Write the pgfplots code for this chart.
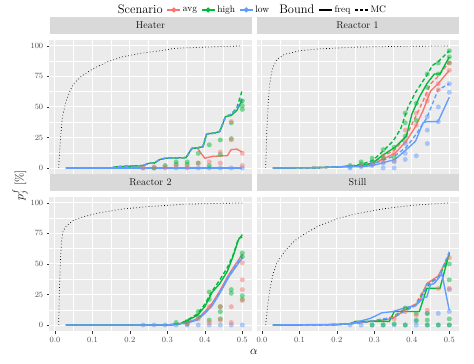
\documentclass[border=0pt]{standalone}
\usepackage{pgfplots}
\pgfplotsset{compat=1.18}
\definecolor{avgc}{HTML}{F8766D}
\definecolor{highc}{HTML}{00BA38}
\definecolor{lowc}{HTML}{619CFF}
\definecolor{panelbg}{HTML}{EBEBEB}
\definecolor{stripbg}{HTML}{D9D9D9}
\definecolor{stripc}{HTML}{1A1A1A}
\definecolor{tickc}{HTML}{333333}
\definecolor{labc}{HTML}{4D4D4D}
\pgfplotsset{
 facet/.style={
  scale only axis, width=202bp, height=134.3bp, anchor=south west,
  xmin=-0.0145, xmax=0.5245, ymin=-5, ymax=105,
  axis background/.style={fill=panelbg},
  axis line style={draw=none},
  xmajorgrids, ymajorgrids, xminorgrids, yminorgrids,
  major grid style={white, line width=0.9bp},
  minor grid style={white, line width=0.45bp},
  xtick={0,0.1,0.2,0.3,0.4,0.5},
  minor xtick={0.05,0.15,0.25,0.35,0.45},
  ytick={0,25,50,75,100},
  minor ytick={12.5,37.5,62.5,87.5},
  xtick pos=bottom, ytick pos=left,
  tick align=outside, major tick length=2.75bp, minor tick length=0pt,
  tick style={color=tickc, line width=0.5bp},
  ticklabel style={font=\fontsize{8.5}{9}\selectfont, text=labc},
  x tick label style={/pgf/number format/.cd, fixed, fixed zerofill, precision=1},
  title style={fill=stripbg, minimum width=202bp, minimum height=17bp, inner sep=0pt, outer sep=0pt, anchor=south, at={(0.5,1)}, font=\fontsize{10}{12}\selectfont, text=stripc},
 },
 notx/.style={xticklabels={}, xmajorticks=false},
 noty/.style={yticklabels={}, ymajorticks=false},
 pts/.style={only marks, mark=*, mark size=2.5bp, mark options={draw opacity=0, fill opacity=0.5}},
 ln/.style={no marks, line width=1.35bp},
 dl/.style={no marks, line width=1.35bp, dash pattern=on 4bp off 2.5bp},
 dot/.style={no marks, black, line width=0.7bp, dash pattern=on 0.7bp off 2.4bp},
 scenleg/.style={legend image code/.code={\draw[##1] (0bp,0bp) -- (13bp,0bp); \fill[##1] (6.5bp,0bp) circle (1.9bp);}},
 lineleg/.style={legend image code/.code={\draw[##1] (0bp,0bp) -- (13bp,0bp);}},
}
\begin{document}
\begin{tikzpicture}
\path[use as bounding box] (0bp,0bp) rectangle (474bp,364bp);
% ---------------- Heater ----------------
\begin{axis}[facet, notx, at={(49.5bp,189.9bp)}, title={Heater},
  legend style={at={(1.0025,1.222)}, anchor=center, draw=none, fill=none, legend columns=-1,
    font=\fontsize{9.5}{11}\selectfont, inner sep=0pt,
    /tikz/every even column/.append style={column sep=2bp}},
  legend cell align=left]
\addlegendimage{empty legend}\addlegendentry{\fontsize{12.5}{14}\selectfont Scenario}
\addlegendimage{avgc, line width=1.2bp, scenleg}\addlegendentry{avg}
\addlegendimage{highc, line width=1.2bp, scenleg}\addlegendentry{high}
\addlegendimage{lowc, line width=1.2bp, scenleg}\addlegendentry{low}
\addlegendimage{empty legend}\addlegendentry{\fontsize{12.5}{14}\selectfont\ Bound}
\addlegendimage{black, line width=1.2bp, lineleg}\addlegendentry{freq}
\addlegendimage{black, line width=1.2bp, dash pattern=on 3bp off 2bp, lineleg}\addlegendentry{MC}
\addplot[dot, forget plot] coordinates {(0.01,0)(0.015,25)(0.02,42)(0.03,55)(0.04,63)(0.05,69)(0.07,75)(0.1,81)(0.14,87)(0.18,91)(0.23,94)(0.28,96)(0.32,98)(0.4,99)(0.5,100)};
\addplot[pts, lowc, forget plot] coordinates {(0.2353,0)(0.2647,0)(0.2941,0)(0.3235,0)(0.3529,0)(0.3824,0)(0.4118,0)(0.4412,0)(0.4706,0)(0.5,0)};
\addplot[pts, highc, forget plot] coordinates {(0.2647,0)(0.2941,2)(0.3235,3)(0.3235,5)(0.3529,3)(0.3529,5)(0.3824,12)(0.3824,4)(0.4118,19)(0.4118,2)(0.4412,23)(0.4412,11)(0.4706,37)(0.4706,24)(0.5,51)(0.5,55)(0.5,48)};
\addplot[pts, avgc, forget plot] coordinates {(0.2353,0)(0.2647,1)(0.2941,1)(0.3235,2)(0.3529,1)(0.3824,4)(0.4118,5)(0.4412,13)(0.4412,4)(0.4706,38)(0.4706,23)(0.5,12)(0.5,2)};
\addplot[dl, avgc, forget plot] coordinates {(0.0294,0)(0.15,0)(0.165,1)(0.2,1.5)(0.235,2)(0.25,3.8)(0.265,4)(0.28,7)(0.295,8)(0.35,8.5)(0.365,16)(0.38,16.5)(0.395,17.5)(0.405,28)(0.425,28.5)(0.44,30)(0.455,42)(0.47,44)(0.485,48)(0.5,54)};
\addplot[ln, avgc, forget plot] coordinates {(0.365,16)(0.38,16.5)(0.39,12)(0.4,8)(0.42,9.5)(0.45,10)(0.46,10)(0.47,15)(0.485,15.5)(0.5,13)};
\addplot[ln, highc, forget plot] coordinates {(0.0294,0)(0.15,0)(0.165,1)(0.2,1.5)(0.235,2)(0.25,3.8)(0.265,4)(0.28,7)(0.295,8)(0.35,8.5)(0.365,16)(0.38,16.5)(0.395,17.5)(0.405,28)(0.425,28.5)(0.44,30)(0.455,42)(0.47,43)(0.485,47)(0.5,56)};
\addplot[dl, highc, forget plot] coordinates {(0.0294,0)(0.15,0)(0.165,1)(0.2,1.5)(0.235,2)(0.25,3.8)(0.265,4)(0.28,7)(0.295,8)(0.35,8.5)(0.365,16)(0.38,16.5)(0.395,17.5)(0.405,28)(0.425,28.5)(0.44,30)(0.455,42)(0.47,44)(0.485,49)(0.5,64)};
\addplot[ln, lowc, forget plot] coordinates {(0.0294,0)(0.5,0)};
\addplot[dl, lowc, forget plot] coordinates {(0.0294,0)(0.15,0)(0.165,1)(0.2,1.5)(0.235,2)(0.25,3.8)(0.265,4)(0.28,7)(0.295,8)(0.35,8.5)(0.365,16)(0.38,16.5)(0.395,17.5)(0.405,28)(0.425,28.5)(0.44,30)(0.455,42)(0.47,44)(0.485,48)(0.5,58)};
\end{axis}
% ---------------- Reactor 1 ----------------
\begin{axis}[facet, notx, noty, at={(256.5bp,189.9bp)}, title={Reactor 1}]
\addplot[dot] coordinates {(0.01,0)(0.013,30)(0.017,55)(0.02,67)(0.025,77)(0.03,83)(0.04,89)(0.06,93)(0.1,96)(0.15,97.5)(0.25,99)(0.35,99.5)(0.5,100)};
\addplot[pts, highc] coordinates {(0.2353,2)(0.2647,3)(0.2647,5)(0.2941,5)(0.2941,8)(0.3235,15)(0.3235,8)(0.3529,17)(0.3529,9)(0.3824,45)(0.3824,37)(0.3824,26)(0.4118,53)(0.4118,39)(0.4412,77)(0.4412,66)(0.4706,86)(0.4706,77)(0.5,96)(0.5,91)(0.5,86)};
\addplot[pts, avgc] coordinates {(0.2647,2)(0.2941,3)(0.3235,10)(0.3235,5)(0.3529,12)(0.3529,6)(0.3824,31)(0.3824,22)(0.4118,45)(0.4118,35)(0.4412,60)(0.4412,55)(0.4706,69)(0.4706,64)(0.5,86)(0.5,80)};
\addplot[pts, lowc] coordinates {(0.2353,0)(0.2353,1)(0.2647,1)(0.2941,2)(0.2941,4)(0.3235,0)(0.3235,4)(0.3529,5)(0.3529,0)(0.3824,20)(0.3824,12)(0.3824,7)(0.4118,10)(0.4412,20)(0.4412,31)(0.4412,42)(0.4706,38)(0.4706,50)(0.5,69)(0.5,62)};
\addplot[ln, avgc] coordinates {(0.0294,0)(0.15,0.3)(0.2,0.8)(0.235,1.5)(0.265,1.8)(0.295,3)(0.32,7)(0.355,12)(0.385,22)(0.41,34)(0.43,47)(0.45,63)(0.47,69)(0.5,80)};
\addplot[dl, avgc] coordinates {(0.0294,0)(0.15,0.3)(0.2,0.8)(0.235,1.5)(0.265,2)(0.295,4)(0.32,9)(0.355,15)(0.385,26)(0.41,42)(0.43,55)(0.45,69)(0.47,75)(0.5,87)};
\addplot[ln, highc] coordinates {(0.0294,0)(0.15,0.3)(0.2,0.8)(0.235,1.5)(0.265,2)(0.295,4)(0.32,10)(0.355,17)(0.385,26)(0.4,44)(0.42,58)(0.44,69)(0.46,77)(0.475,77)(0.5,91)};
\addplot[dl, highc] coordinates {(0.0294,0)(0.15,0.3)(0.2,0.8)(0.235,1.5)(0.265,3)(0.295,6)(0.32,13)(0.35,22)(0.37,32)(0.39,50)(0.41,62)(0.44,76)(0.455,84)(0.47,87)(0.5,96)};
\addplot[ln, lowc] coordinates {(0.0294,0)(0.15,0.3)(0.2,0.8)(0.235,1.2)(0.265,1)(0.295,2)(0.32,4)(0.355,7)(0.385,15)(0.41,22)(0.43,37)(0.44,38)(0.47,38)(0.5,58)};
\addplot[dl, lowc] coordinates {(0.0294,0)(0.15,0.3)(0.2,0.8)(0.235,1.5)(0.265,1.5)(0.295,3)(0.32,6)(0.355,10)(0.385,17)(0.41,27)(0.44,41)(0.47,64)(0.5,69)};
\end{axis}
% ---------------- Reactor 2 ----------------
\begin{axis}[facet, at={(49.5bp,32.9bp)}, title={Reactor 2}]
\addplot[dot] coordinates {(0.01,0)(0.012,30)(0.015,55)(0.018,70)(0.022,77)(0.03,81)(0.05,86)(0.08,89)(0.12,92)(0.18,95)(0.25,97)(0.35,99)(0.5,100)};
\addplot[pts, lowc] coordinates {(0.2353,0)(0.2647,0)(0.2941,0)(0.3235,0)(0.3529,0)(0.3824,0)(0.4118,0)(0.4412,0)(0.4706,0)(0.5,0)};
\addplot[pts, highc] coordinates {(0.3235,2)(0.3529,1)(0.3529,3)(0.3824,11)(0.3824,7)(0.4118,27)(0.4118,21)(0.4118,4)(0.4412,15)(0.4412,11)(0.4412,5)(0.4706,29)(0.4706,26)(0.5,59)(0.5,56)(0.5,24)(0.5,21)};
\addplot[pts, avgc] coordinates {(0.3529,1)(0.3824,5)(0.4118,15)(0.4118,2)(0.4412,15)(0.4412,4)(0.4706,15)(0.4706,2)(0.5,51)(0.5,37)(0.5,29)(0.5,20)};
\addplot[ln, avgc] coordinates {(0.0294,0)(0.3,0)(0.35,2)(0.38,5)(0.4,11)(0.42,18)(0.44,28)(0.465,42)(0.5,58)};
\addplot[dl, avgc] coordinates {(0.0294,0)(0.3,0)(0.35,1.5)(0.38,4.5)(0.4,10)(0.42,17)(0.44,27)(0.465,40)(0.5,56)};
\addplot[ln, highc] coordinates {(0.0294,0)(0.3,0)(0.33,0.5)(0.35,3)(0.38,8)(0.4,15)(0.42,27)(0.44,34)(0.46,44)(0.475,56)(0.49,70)(0.5,74)};
\addplot[dl, highc] coordinates {(0.0294,0)(0.3,0)(0.33,0.5)(0.35,3.5)(0.38,9)(0.4,17)(0.42,28)(0.44,37)(0.46,47)(0.475,57)(0.49,71)(0.5,72)};
\addplot[ln, lowc] coordinates {(0.0294,0)(0.3,0)(0.35,1.5)(0.38,4)(0.4,9.5)(0.42,16)(0.44,26)(0.465,40)(0.5,55)};
\addplot[dl, lowc] coordinates {(0.0294,0)(0.3,0)(0.35,1.5)(0.38,5)(0.4,10)(0.42,17)(0.44,27)(0.465,41)(0.5,57)};
\end{axis}
% ---------------- Still ----------------
\begin{axis}[facet, noty, at={(256.5bp,32.9bp)}, title={Still}]
\addplot[dot] coordinates {(0.01,0)(0.015,15)(0.02,27)(0.025,35)(0.03,42)(0.04,51)(0.06,60)(0.08,67)(0.1,72)(0.15,81)(0.2,87)(0.25,91)(0.32,95)(0.4,98)(0.5,100)};
\addplot[pts, lowc] coordinates {(0.2353,0)(0.2647,0)(0.2941,0)(0.3235,0)(0.3529,0)(0.3824,0)(0.4118,0)(0.4412,0)(0.4706,0)(0.5,0)(0.4118,3)(0.4412,9.5)(0.4706,9.5)(0.5,11)(0.5,29)};
\addplot[pts, highc] coordinates {(0.2941,0)(0.3235,0)(0.3529,1)(0.3824,14)(0.3824,0)(0.4118,9.5)(0.4118,4)(0.4412,4)(0.4412,9.5)(0.4412,0)(0.4706,0)(0.5,50)(0.5,37)(0.5,5)(0.5,0)};
\addplot[pts, avgc] coordinates {(0.3529,5)(0.3824,11)(0.4118,8)(0.4412,12)(0.4706,30)(0.5,55)(0.5,30)};
\addplot[ln, avgc] coordinates {(0.0294,0)(0.2,0.3)(0.235,1)(0.29,3)(0.32,4)(0.35,5.5)(0.38,12)(0.41,17)(0.42,19)(0.43,27)(0.44,34)(0.47,40)(0.5,57)};
\addplot[dl, avgc] coordinates {(0.0294,0)(0.2,0.3)(0.235,1)(0.29,3)(0.32,4)(0.35,7)(0.38,13)(0.41,17)(0.43,28)(0.45,36)(0.47,39)(0.5,58)};
\addplot[dl, highc] coordinates {(0.0294,0)(0.2,0.3)(0.235,1)(0.29,3)(0.32,4)(0.35,6)(0.38,12)(0.41,16)(0.43,26)(0.45,35)(0.47,38)(0.5,57)};
\addplot[ln, highc] coordinates {(0.0294,0)(0.2,0.3)(0.235,1)(0.25,3)(0.34,3)(0.353,11)(0.42,11)(0.44,30)(0.475,30)(0.5,59)};
\addplot[dl, lowc] coordinates {(0.0294,0)(0.2,0.3)(0.235,1)(0.29,3)(0.32,5)(0.35,6)(0.38,11)(0.41,16)(0.43,25)(0.44,33)(0.47,38)(0.5,60)};
\addplot[ln, lowc] coordinates {(0.0294,0)(0.2,0.5)(0.235,1)(0.26,3)(0.29,5.5)(0.32,10)(0.35,11)(0.38,14)(0.41,16)(0.43,22)(0.44,23)(0.45,33)(0.46,34)(0.48,42)(0.5,12)};
\end{axis}
\node[rotate=90, font=\fontsize{11.5}{13}\selectfont] at (20bp,178.5bp) {$p^f_j$ [\%]};
\node[font=\fontsize{12}{14}\selectfont] at (254bp,12bp) {$\alpha$};
\end{tikzpicture}
\end{document}
